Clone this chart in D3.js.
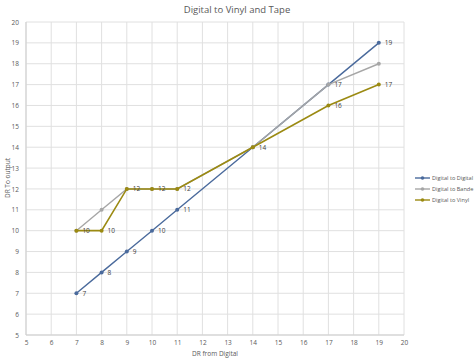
<!DOCTYPE html>
<html><head><meta charset="utf-8">
<script src="https://cdn.jsdelivr.net/npm/d3@7"></script>
<style>body{margin:0;background:#fff}svg{display:block;font-family:"Open Sans",sans-serif}</style>
</head><body><svg id="c" width="474" height="360"></svg>
<script>
const xValues = [7, 8, 9, 10, 11, 14, 17, 19];
const digitalToDigital = [7, 8, 9, 10, 11, 14, 17, 19];
const digitalToBande = [10, 11, 12, 12, 12, 14, 17, 18];
const digitalToVinyl = [10, 10, 12, 12, 12, 14, 16, 17];
const seriesNames = ["Digital to Digital", "Digital to Bande", "Digital to Vinyl"];
const labelShown = [
  [true, true, true, true, true, false, false, true],
  [false, false, false, false, false, false, true, false],
  [true, true, true, true, true, true, true, true]
];
const xTicks = d3.range(5, 21);
const yTicks = d3.range(5, 21);
const colors = ["#4a6a9c", "#a6a6a6", "#9b8a12"];

const svg = d3.select("#c");
const x = d3.scaleLinear().domain([5, 20]).range([26, 404]);
const y = d3.scaleLinear().domain([5, 20]).range([335, 22]);

// grid
svg.append("g").selectAll("line").data(xTicks).join("line")
  .attr("x1", d => x(d)).attr("x2", d => x(d)).attr("y1", y(20)).attr("y2", y(5))
  .attr("stroke", "#e0e0e0").attr("stroke-width", 1);
svg.append("g").selectAll("line").data(yTicks).join("line")
  .attr("x1", x(5)).attr("x2", x(20)).attr("y1", d => y(d)).attr("y2", d => y(d))
  .attr("stroke", "#e0e0e0").attr("stroke-width", 1);
svg.append("line").attr("x1", x(5)).attr("x2", x(20)).attr("y1", y(5)).attr("y2", y(5)).attr("stroke", "#cfcfcf");
svg.append("line").attr("x1", x(5)).attr("x2", x(5)).attr("y1", y(20)).attr("y2", y(5)).attr("stroke", "#cfcfcf");

// axes
const xAxis = svg.append("g").attr("transform", `translate(0,${y(5)})`)
  .call(d3.axisBottom(x).tickValues(xTicks).tickSize(0).tickPadding(5).tickFormat(d3.format("d")));
const yAxis = svg.append("g").attr("transform", `translate(${x(5)},0)`)
  .call(d3.axisLeft(y).tickValues(yTicks).tickSize(0).tickPadding(7).tickFormat(d3.format("d")));
[xAxis, yAxis].forEach(a => {
  a.select(".domain").remove();
  a.selectAll("text").attr("fill", "#595959").attr("font-size", 6.5).attr("font-family", "Open Sans, sans-serif");
});

// titles
svg.append("text").attr("x", 237).attr("y", 13).attr("text-anchor", "middle")
  .attr("font-size", 9.5).attr("fill", "#595959").text("Digital to Vinyl and Tape");
svg.append("text").attr("x", 215).attr("y", 356).attr("text-anchor", "middle")
  .attr("font-size", 6.5).attr("fill", "#595959").text("DR from Digital");
svg.append("text").attr("transform", "translate(10,178) rotate(-90)").attr("text-anchor", "middle")
  .attr("font-size", 6.5).attr("fill", "#595959").text("DR To output");

const all = [digitalToDigital, digitalToBande, digitalToVinyl];
const line = d3.line().x(d => x(d[0])).y(d => y(d[1]));
const drawOrder = [0, 1, 2];
drawOrder.forEach(i => {
  const pts = xValues.map((v, k) => [v, all[i][k]]);
  svg.append("path").datum(pts).attr("d", line).attr("fill", "none")
    .attr("stroke", colors[i]).attr("stroke-width", i === 2 ? 1.6 : 1.4);
  svg.append("g").selectAll("circle").data(pts).join("circle")
    .attr("cx", d => x(d[0])).attr("cy", d => y(d[1])).attr("r", 2)
    .attr("fill", colors[i]);
});
drawOrder.forEach(i => {
  const pts = xValues.map((v, k) => [v, all[i][k], labelShown[i][k]]);
  svg.append("g").selectAll("text").data(pts.filter(d => d[2])).join("text")
    .attr("x", d => x(d[0]) + 6).attr("y", d => y(d[1]) + 2.3)
    .attr("font-size", 6.5).attr("fill", "#404040").text(d => d[1]);
});

// legend
const lg = svg.append("g");
seriesNames.forEach((n, i) => {
  const ly = 178 + i * 11;
  lg.append("line").attr("x1", 415).attr("x2", 430).attr("y1", ly).attr("y2", ly)
    .attr("stroke", colors[i]).attr("stroke-width", 1.4);
  lg.append("circle").attr("cx", 422.5).attr("cy", ly).attr("r", 1.8).attr("fill", colors[i]);
  lg.append("text").attr("x", 432).attr("y", ly + 2.2).attr("font-size", 5.6)
    .attr("fill", "#595959").text(n);
});
</script></body></html>
